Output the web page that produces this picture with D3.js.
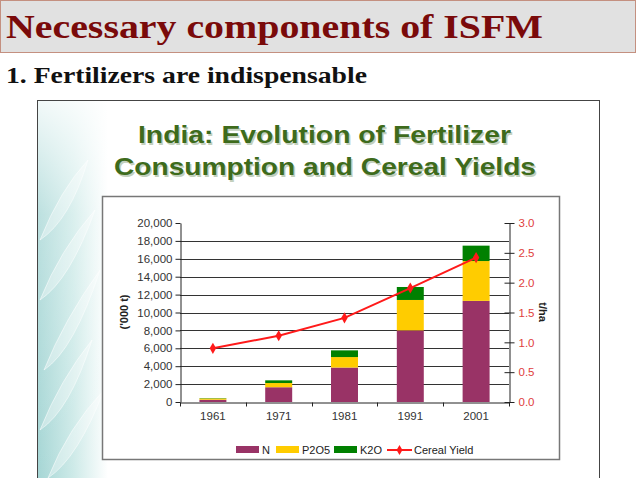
<!DOCTYPE html>
<html>
<head>
<meta charset="utf-8">
<script src="https://cdn.jsdelivr.net/npm/d3@7"></script>
<style>
  body { margin: 0; background: #fff; }
  svg { display: block; }
</style>
</head>
<body>
<script>
var years = ["1961", "1971", "1981", "1991", "2001"];
var nValues = [250, 1650, 3850, 8000, 11300];
var p2o5Values = [150, 470, 1170, 3400, 4450];
var k2oValues = [40, 300, 750, 1450, 1720];
var cerealYield = [0.90, 1.11, 1.41, 1.91, 2.42];
var leftTicks = [0, 2000, 4000, 6000, 8000, 10000, 12000, 14000, 16000, 18000, 20000];
var rightTicks = [0, 0.5, 1.0, 1.5, 2.0, 2.5, 3.0];
var seriesNames = ["N", "P2O5", "K2O"];
var seriesColors = ["#993366", "#ffcc00", "#008000"];

var w = 638, h = 478;

var svg = d3.select("body").append("svg")
    .attr("width", w)
    .attr("height", h);

// slide header
svg.append("rect")
    .attr("x", 0.5).attr("y", 0.5)
    .attr("width", 635).attr("height", 52)
    .attr("fill", "#e1e1e1")
    .attr("stroke", "#c49080");

svg.append("text")
    .attr("x", 6).attr("y", 38)
    .attr("textLength", 537)
    .attr("lengthAdjust", "spacingAndGlyphs")
    .style("font-family", "'Liberation Serif', 'DejaVu Serif', serif")
    .style("font-size", "33px")
    .style("font-weight", "bold")
    .style("fill", "#7a0a0a")
    .text("Necessary components of ISFM");

svg.append("text")
    .attr("x", 6).attr("y", 83)
    .attr("textLength", 361)
    .attr("lengthAdjust", "spacingAndGlyphs")
    .style("font-family", "'Liberation Serif', 'DejaVu Serif', serif")
    .style("font-size", "23px")
    .style("font-weight", "bold")
    .style("fill", "#111")
    .text("1. Fertilizers are indispensable");

// picture frame with teal feather on the left
var defs = svg.append("defs");
var grad = defs.append("linearGradient").attr("id", "teal")
    .attr("x1", "0").attr("x2", "1").attr("y1", "0").attr("y2", "0");
grad.append("stop").attr("offset", "0").attr("stop-color", "#a6d6d5");
grad.append("stop").attr("offset", "0.5").attr("stop-color", "#cdeae8");
grad.append("stop").attr("offset", "1").attr("stop-color", "#ffffff");

var fade = defs.append("linearGradient").attr("id", "fadeTop")
    .attr("x1", "0").attr("x2", "0").attr("y1", "0").attr("y2", "1");
fade.append("stop").attr("offset", "0").attr("stop-color", "#fff").attr("stop-opacity", 0.85);
fade.append("stop").attr("offset", "0.3").attr("stop-color", "#fff").attr("stop-opacity", 0.25);
fade.append("stop").attr("offset", "1").attr("stop-color", "#fff").attr("stop-opacity", 0);

svg.append("rect")
    .attr("x", 37.5).attr("y", 100.5)
    .attr("width", 562).attr("height", 400)
    .attr("fill", "#fff");

svg.append("rect")
    .attr("x", 38).attr("y", 101)
    .attr("width", 70).attr("height", 377)
    .attr("fill", "url(#teal)");

// soft feather shapes
var feathers = [[40, 300, 95, 210], [44, 370, 100, 270], [40, 430, 92, 340], [48, 478, 104, 390], [40, 240, 88, 160]];
svg.selectAll("path.feather")
    .data(feathers)
    .enter().append("path")
    .attr("class", "feather")
    .attr("d", function(d) {
        return "M" + d[0] + "," + d[1] + " Q" + (d[0] + 30) + "," + (d[1] - 20) + " " + d[2] + "," + d[3] +
            " Q" + (d[0] + 20) + "," + (d[1] - 50) + " " + d[0] + "," + d[1] + "Z";
    })
    .attr("fill", "#ffffff")
    .attr("fill-opacity", 0.35)
    .attr("stroke", "#ffffff")
    .attr("stroke-opacity", 0.5)
    .attr("stroke-width", 1);

svg.append("rect")
    .attr("x", 38).attr("y", 101)
    .attr("width", 70).attr("height", 377)
    .attr("fill", "url(#fadeTop)");

svg.append("rect")
    .attr("x", 37.5).attr("y", 100.5)
    .attr("width", 562).attr("height", 400)
    .attr("fill", "none")
    .attr("stroke", "#444");

// chart title
var title = svg.append("g")
    .style("font-family", "Arial, 'Liberation Sans', sans-serif")
    .style("font-size", "24px")
    .style("font-weight", "bold");
[["India: Evolution of Fertilizer", 138, 143, 373], ["Consumption and Cereal Yields", 114, 175, 422]].forEach(function(t) {
    title.append("text")
        .attr("x", t[1] + 1.5).attr("y", t[2] + 1.5)
        .attr("textLength", t[3])
        .attr("lengthAdjust", "spacingAndGlyphs")
        .style("fill", "#c3d0bd")
        .text(t[0]);
    title.append("text")
        .attr("x", t[1]).attr("y", t[2])
        .attr("textLength", t[3])
        .attr("lengthAdjust", "spacingAndGlyphs")
        .style("fill", "#3e6b1c")
        .text(t[0]);
});

// chart box
svg.append("rect")
    .attr("x", 102.5).attr("y", 196.5)
    .attr("width", 457).attr("height", 263)
    .attr("fill", "#fff")
    .attr("stroke", "#777")
    .attr("stroke-width", 1.5);

var x = d3.scaleBand()
    .domain(years)
    .range([180, 509])
    .paddingInner(0.59)
    .paddingOuter(0.295);

var y = d3.scaleLinear().domain([0, 20000]).range([402, 223]);
var y2 = d3.scaleLinear().domain([0, 3]).range([402, 223]);

// gridlines
svg.append("g")
    .selectAll("line")
    .data(leftTicks.filter(function(d) { return d > 0 && d < 20000; }))
    .enter().append("line")
    .attr("x1", 180).attr("x2", 509)
    .attr("y1", function(d) { return Math.round(y(d)) + 0.5; })
    .attr("y2", function(d) { return Math.round(y(d)) + 0.5; })
    .attr("stroke", "#333")
    .attr("stroke-width", 1);

// stacked bars
var tableData = years.map(function(yr, i) {
    return { year: yr, N: nValues[i], P2O5: p2o5Values[i], K2O: k2oValues[i] };
});
var stack = d3.stack().keys(seriesNames)(tableData);

svg.append("g")
    .selectAll("g")
    .data(stack)
    .enter().append("g")
    .attr("fill", function(d, i) { return seriesColors[i]; })
    .selectAll("rect")
    .data(function(d) { return d; })
    .enter().append("rect")
    .attr("x", function(d) { return x(d.data.year); })
    .attr("width", x.bandwidth())
    .attr("y", function(d) { return y(d[1]); })
    .attr("height", function(d) { return y(d[0]) - y(d[1]); });

// axes
var axisFont = function(g) {
    g.selectAll("text")
        .style("font-family", "Arial, 'Liberation Sans', sans-serif")
        .style("font-size", "11.5px");
    g.select(".domain").attr("stroke", "#222");
    g.selectAll(".tick line").attr("stroke", "#222");
};

svg.append("g")
    .attr("transform", "translate(180.5,0)")
    .call(d3.axisLeft(y).tickValues(leftTicks).tickFormat(d3.format(",")).tickSize(5).tickSizeOuter(0).tickPadding(3))
    .call(axisFont)
    .call(function(g) { g.selectAll("text").style("fill", "#333"); });

var rightAxis = svg.append("g")
    .attr("transform", "translate(509.5,0)")
    .call(d3.axisRight(y2).tickValues(rightTicks).tickFormat(d3.format(".1f")).tickSize(5).tickSizeOuter(0).tickPadding(4))
    .call(axisFont)
    .call(function(g) { g.selectAll("text").style("fill", "#e0403c"); });
rightAxis.selectAll(".tick line").attr("x1", -5);

var xAxis = svg.append("g")
    .attr("transform", "translate(0,402.5)")
    .call(d3.axisBottom(x).tickSize(0).tickPadding(9))
    .call(axisFont)
    .call(function(g) { g.selectAll("text").style("fill", "#333"); });

// tick marks between categories
var bounds = d3.range(years.length + 1).map(function(i) { return 180 + i * x.step(); });
xAxis.selectAll("line.sep")
    .data(bounds)
    .enter().append("line")
    .attr("class", "sep")
    .attr("x1", function(d) { return Math.round(d) + 0.5; })
    .attr("x2", function(d) { return Math.round(d) + 0.5; })
    .attr("y1", 0).attr("y2", 4)
    .attr("stroke", "#222");

// axis titles
svg.append("text")
    .attr("transform", "translate(128,312) rotate(-90)")
    .attr("text-anchor", "middle")
    .style("font-family", "Arial, 'Liberation Sans', sans-serif")
    .style("font-size", "11px")
    .style("font-weight", "bold")
    .style("fill", "#222")
    .text("('000 t)");

svg.append("text")
    .attr("transform", "translate(539,312) rotate(90)")
    .attr("text-anchor", "middle")
    .style("font-family", "Arial, 'Liberation Sans', sans-serif")
    .style("font-size", "11px")
    .style("font-weight", "bold")
    .style("fill", "#222")
    .text("t/ha");

// cereal yield line
var line = d3.line()
    .x(function(d, i) { return x(years[i]) + x.bandwidth() / 2; })
    .y(function(d) { return y2(d); });

svg.append("path")
    .datum(cerealYield)
    .attr("d", line)
    .attr("fill", "none")
    .attr("stroke", "#ff1a1a")
    .attr("stroke-width", 2);

svg.append("g")
    .selectAll("path")
    .data(cerealYield)
    .enter().append("path")
    .attr("d", d3.symbol().type(d3.symbolDiamond).size(36))
    .attr("transform", function(d, i) {
        return "translate(" + (x(years[i]) + x.bandwidth() / 2) + "," + y2(d) + ")";
    })
    .attr("fill", "#ff1a1a");

// legend
var legend = svg.append("g")
    .style("font-family", "Arial, 'Liberation Sans', sans-serif")
    .style("font-size", "11px")
    .style("fill", "#222");
var legendX = [236, 276, 334];
seriesNames.forEach(function(name, i) {
    legend.append("rect")
        .attr("x", legendX[i]).attr("y", 446)
        .attr("width", 23).attr("height", 7)
        .attr("fill", seriesColors[i]);
    legend.append("text")
        .attr("x", legendX[i] + 26).attr("y", 454)
        .text(name);
});
legend.append("line")
    .attr("x1", 387).attr("x2", 412)
    .attr("y1", 450).attr("y2", 450)
    .attr("stroke", "#ff1a1a")
    .attr("stroke-width", 2);
legend.append("path")
    .attr("d", d3.symbol().type(d3.symbolDiamond).size(30))
    .attr("transform", "translate(399.5,450)")
    .attr("fill", "#ff1a1a");
legend.append("text")
    .attr("x", 414).attr("y", 454)
    .text("Cereal Yield");
</script>
</body>
</html>
